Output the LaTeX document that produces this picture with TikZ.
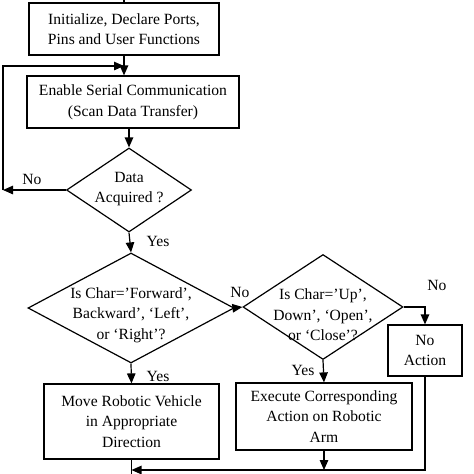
\documentclass[tikz,border=0pt]{standalone}
\usepackage{fontspec}
\setmainfont{Liberation Serif}
\usetikzlibrary{shapes.geometric,arrows.meta}
\begin{document}
\begin{tikzpicture}[x=1pt,y=-1pt,
  font=\fontsize{15.6}{20.5}\selectfont,
  every path/.style={line width=1.2pt},
  box/.style={draw, line width=1.2pt, inner sep=0pt, align=center},
  dia/.style={draw, diamond, line width=1.2pt, inner sep=0pt},
  txt/.style={align=center, inner sep=0pt},
  arr/.style={-{Triangle[length=10pt,width=8.5pt]}}]
\useasboundingbox (0,0) rectangle (474,474);
% boxes
\node[box, minimum width=190pt, minimum height=52pt] (b1) at (124,29) {Initialize, Declare Ports,\\Pins and User Functions};
\node[box, minimum width=212pt, minimum height=52pt] (b2) at (133,102) {Enable Serial Communication\\(Scan Data Transfer)};
\node[dia, minimum width=125pt, minimum height=84pt] (d1) at (129,190) {};
\node[txt] (t1) at (129,189) {Data\\Acquired ?};
\node[dia, minimum width=206pt, minimum height=110pt] (d2) at (131,308) {};
\node[txt] (t2) at (131,315) {Is Char=’Forward’,\\Backward’, ‘Left’,\\or ‘Right’?};
\node[dia, minimum width=160pt, minimum height=105pt] (d3) at (323,307) {};
\node[txt] (t3) at (323,315) {Is Char=’Up’,\\Down’, ‘Open’,\\or ‘Close’?};
\node[box, minimum width=74pt, minimum height=51pt] (na) at (425,350.5) {No\\Action};
\node[box, minimum width=175pt, minimum height=75pt] (mv) at (131.5,421.5) {Move Robotic Vehicle\\in Appropriate\\Direction};
\node[box, minimum width=176pt, minimum height=67pt] (ex) at (324,416.5) {Execute Corresponding\\Action on Robotic\\Arm};
% coordinates
\coordinate (top) at (124,0);
\coordinate (fbl) at (3,190);
\coordinate (fbt) at (3,66);
\coordinate (mg) at (124,66);
\coordinate (bl) at (131.5,470);
\coordinate (exb) at (324,470);
\coordinate (mvb) at (131.5,474);
% connectors
\draw (top) -- (b1.north);
\draw[arr] (b1.south) -- (b1.south |- b2.north);
\draw[arr] (d1.north |- b2.south) -- (d1.north);
\draw[arr] (d1.west) -- (fbl);
\draw[arr] (fbl) -- (fbt) -- (mg);
\draw[arr] (d1.south) -- (d2.north);
\draw[arr] (d2.east) -- (d3.west);
\draw[arr] (d2.south) -- (mv.north);
\draw[arr] (d3.east) -| (na.north);
\draw[arr] (d3.south) -- (ex.north);
\draw[arr] (ex.south) -- (exb);
\draw[arr] (na.south) |- (bl);
\draw (mv.south) -- (mvb);
% labels
\node[txt] (l1) at (32,179) {No};
\node[txt] (l2) at (158,241) {Yes};
\node[txt] (l3) at (240,292) {No};
\node[txt] (l4) at (158,376) {Yes};
\node[txt] (l5) at (437,285) {No};
\node[txt] (l6) at (303,370) {Yes};
\end{tikzpicture}
\end{document}
